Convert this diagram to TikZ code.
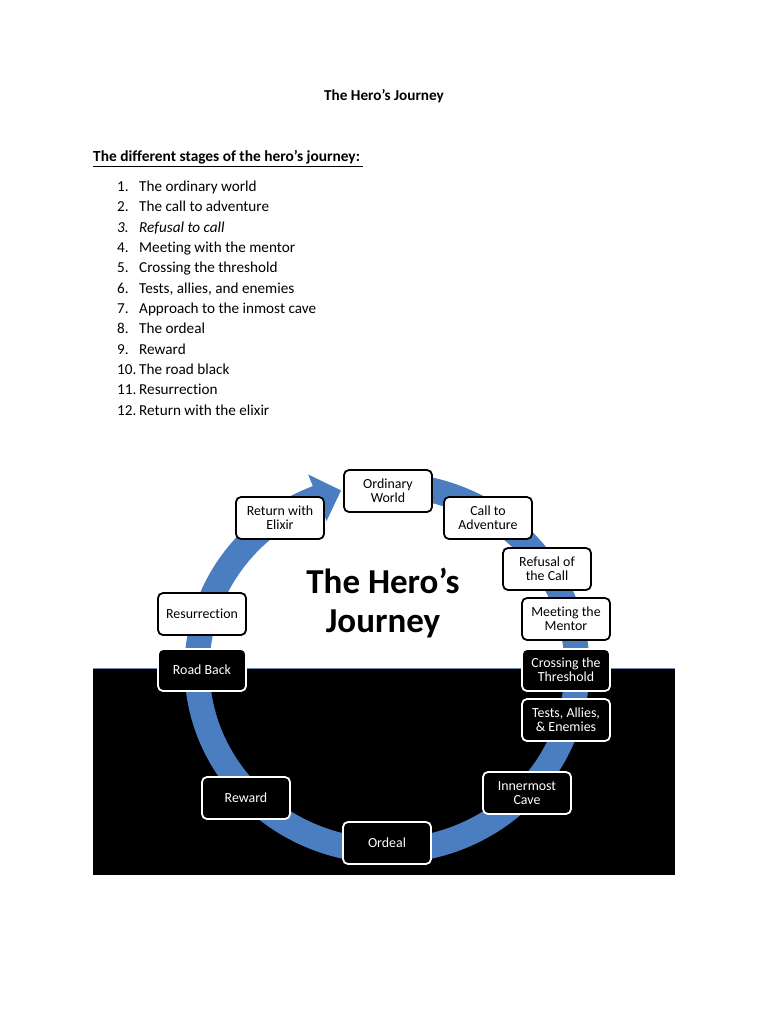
\documentclass[tikz,border=0pt]{standalone}
\usepackage{fontspec}
\setmainfont[Ligatures={NoCommon}]{Carlito}
\newcommand{\fsz}[1]{\fontsize{#1}{#1}\selectfont}
\definecolor{bandblue}{RGB}{74,126,192}
\definecolor{edgeblue}{RGB}{110,142,182}
\begin{document}
\begin{tikzpicture}[x=1pt,y=-1pt,
  txt/.style={anchor=base west,inner sep=0pt,font=\fsz{15.2}},
  upbox/.style={draw=black,fill=white,rounded corners=5pt,line width=1.8pt,
    minimum width=88pt,minimum height=42pt,align=center,inner sep=1pt,
    font=\fontsize{13.9}{14}\selectfont},
  lowbox/.style={upbox,draw=white,fill=black,text=white},
  band/.style={draw=bandblue,line width=25pt,line cap=butt}]
\useasboundingbox (0,0) rectangle (768,1024);
\fill[white] (0,0) rectangle (768,1024);
% heading texts
\node[anchor=base,inner sep=0pt,font=\bfseries\fsz{15.2}] (title) at (384,101) {The Hero’s Journey};
\node[txt,font=\bfseries\fsz{15.4}] (head) at (93,162) {\underline{The different stages of the hero’s journey:\ }};
% list
\foreach \i/\t in {1/The ordinary world,2/The call to adventure,4/Meeting with the mentor,5/Crossing the threshold,6/{Tests, allies, and enemies},7/Approach to the inmost cave,8/The ordeal,9/Reward,10/The road black,11/Resurrection,12/Return with the elixir}{
  \node[txt] (num\i) at (117,{191.5+20.32*(\i-1)}) {\i.};
  \node[txt] (item\i) at (139,{191.5+20.32*(\i-1)}) {\t};
}
\node[txt,font=\itshape\fsz{15.2}] (num3) at (117,{191.5+20.32*2}) {3.};
\node[txt,font=\itshape\fsz{15.2}] (item3) at (139,{191.5+20.32*2}) {Refusal to call};
% black lower area
\fill[black] (93,668) rectangle (675,875);
\draw[edgeblue,line width=1.5pt] (93,668.5) -- (675,668.5);
% cycle band
\coordinate (ctr) at (387,668);
\draw[band] plot[domain=80:-249.5,samples=240,smooth,variable=\t] ({387+190*cos(\t)},{668-183*sin(\t)});
\fill[bandblue] ({387+215*cos(111.5)},{668-208*sin(111.5)}) -- ({387+190*cos(104)},{668-183*sin(104)}) -- ({387+165*cos(111.5)},{668-158*sin(111.5)}) -- cycle;
% big title
\node[align=center,font=\bfseries\fontsize{35}{39}\selectfont,inner sep=0pt] (big) at (383,603) {The Hero’s\\Journey};
% boxes
\node[upbox] (ow) at (388,491) {Ordinary\\World};
\node[upbox] (ca) at (488,518) {Call to\\Adventure};
\node[upbox] (rc) at (547,569) {Refusal of\\the Call};
\node[upbox] (mm) at (566,619) {Meeting the\\Mentor};
\node[lowbox] (ct) at (566,670) {Crossing the\\Threshold};
\node[lowbox] (ta) at (566,720) {Tests, Allies,\\\& Enemies};
\node[lowbox] (ic) at (527,793) {Innermost\\Cave};
\node[lowbox] (od) at (387,843) {Ordeal};
\node[lowbox] (rw) at (246,798) {Reward};
\node[lowbox] (rb) at (202,670) {Road Back};
\node[upbox] (rs) at (202,614) {Resurrection};
\node[upbox] (re) at (280,518) {Return with\\Elixir};
\end{tikzpicture}
\end{document}
